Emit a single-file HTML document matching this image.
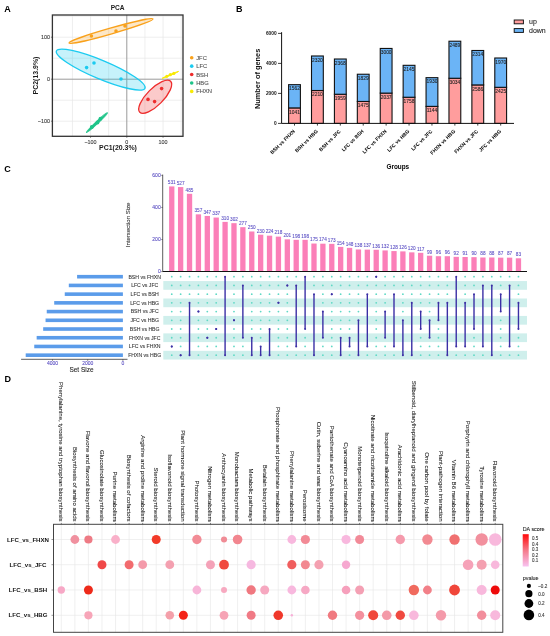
<!DOCTYPE html>
<html><head><meta charset="utf-8"><style>
html,body{margin:0;padding:0;background:#fff;width:550px;height:636px;overflow:hidden}
svg{display:block;font-family:"Liberation Sans", sans-serif;filter:blur(0.25px)}
</style></head><body>
<svg width="550" height="636" viewBox="0 0 550 636">
<rect width="550" height="636" fill="#fff"/>
<text x="4.20" y="11.50" font-size="9.0" fill="#000" font-weight="bold" text-anchor="start" >A</text>
<text x="235.90" y="11.80" font-size="9.0" fill="#000" font-weight="bold" text-anchor="start" >B</text>
<text x="4.20" y="171.80" font-size="9.0" fill="#000" font-weight="bold" text-anchor="start" >C</text>
<text x="4.40" y="381.50" font-size="9.0" fill="#000" font-weight="bold" text-anchor="start" >D</text>
<rect x="52.4" y="15.0" width="130.6" height="121.30000000000001" fill="#fff"/>
<line x1="72.42" y1="15.0" x2="72.42" y2="136.3" stroke="#e6e6e6" stroke-width="0.7"/>
<line x1="90.55" y1="15.0" x2="90.55" y2="136.3" stroke="#e6e6e6" stroke-width="0.7"/>
<line x1="108.67" y1="15.0" x2="108.67" y2="136.3" stroke="#e6e6e6" stroke-width="0.7"/>
<line x1="144.93" y1="15.0" x2="144.93" y2="136.3" stroke="#e6e6e6" stroke-width="0.7"/>
<line x1="163.05" y1="15.0" x2="163.05" y2="136.3" stroke="#e6e6e6" stroke-width="0.7"/>
<line x1="181.18" y1="15.0" x2="181.18" y2="136.3" stroke="#e6e6e6" stroke-width="0.7"/>
<line x1="52.4" y1="16.20" x2="183.0" y2="16.20" stroke="#e6e6e6" stroke-width="0.7"/>
<line x1="52.4" y1="37.20" x2="183.0" y2="37.20" stroke="#e6e6e6" stroke-width="0.7"/>
<line x1="52.4" y1="58.20" x2="183.0" y2="58.20" stroke="#e6e6e6" stroke-width="0.7"/>
<line x1="52.4" y1="100.20" x2="183.0" y2="100.20" stroke="#e6e6e6" stroke-width="0.7"/>
<line x1="52.4" y1="121.20" x2="183.0" y2="121.20" stroke="#e6e6e6" stroke-width="0.7"/>
<line x1="126.80" y1="15.0" x2="126.80" y2="136.3" stroke="#9a9a9a" stroke-width="1"/>
<line x1="52.4" y1="79.20" x2="183.0" y2="79.20" stroke="#9a9a9a" stroke-width="1"/>
<ellipse cx="111.00" cy="31.00" rx="43.68" ry="2.9" transform="rotate(-15.95 111.00 31.00)" fill="#F9A11B" fill-opacity="0.25" stroke="#F9A11B" stroke-width="1.3"/>
<ellipse cx="100.70" cy="69.60" rx="48.05" ry="9.2" transform="rotate(22.78 100.70 69.60)" fill="#1BCBF0" fill-opacity="0.25" stroke="#1BCBF0" stroke-width="1.3"/>
<ellipse cx="155.20" cy="96.75" rx="21.89" ry="8.3" transform="rotate(-45.28 155.20 96.75)" fill="#EE2C2C" fill-opacity="0.25" stroke="#EE2C2C" stroke-width="1.3"/>
<ellipse cx="96.90" cy="122.70" rx="14.43" ry="1.1" transform="rotate(-43.32 96.90 122.70)" fill="#1EC489" fill-opacity="1" stroke="#1EC489" stroke-width="1.0"/>
<ellipse cx="170.30" cy="74.90" rx="9.01" ry="0.45" transform="rotate(-22.86 170.30 74.90)" fill="#F8EA06" fill-opacity="1" stroke="#F8EA06" stroke-width="0.8"/>
<circle cx="91.4" cy="36" r="1.8" fill="#F9A11B"/>
<circle cx="116" cy="31" r="1.8" fill="#F9A11B"/>
<circle cx="125" cy="26" r="1.8" fill="#F9A11B"/>
<circle cx="86.6" cy="67.6" r="1.8" fill="#1BCBF0"/>
<circle cx="94" cy="63" r="1.8" fill="#1BCBF0"/>
<circle cx="121" cy="79" r="1.8" fill="#1BCBF0"/>
<circle cx="148" cy="99.4" r="1.8" fill="#EE2C2C"/>
<circle cx="154.6" cy="101.6" r="1.8" fill="#EE2C2C"/>
<circle cx="161.6" cy="88.6" r="1.8" fill="#EE2C2C"/>
<circle cx="91.8" cy="127" r="1.9" fill="#1EC489"/>
<circle cx="97.5" cy="122.5" r="1.9" fill="#1EC489"/>
<circle cx="100.4" cy="118.7" r="1.9" fill="#1EC489"/>
<circle cx="166.8" cy="76.3" r="1.6" fill="#F8EA06"/>
<circle cx="170.3" cy="74.7" r="1.6" fill="#F8EA06"/>
<circle cx="173.8" cy="73.4" r="1.6" fill="#F8EA06"/>
<rect x="52.4" y="15.0" width="130.6" height="121.30000000000001" fill="none" stroke="#333" stroke-width="1.3"/>
<line x1="50.9" y1="37.20" x2="52.4" y2="37.20" stroke="#333" stroke-width="0.6"/>
<text x="50.00" y="39.10" font-size="5.4" fill="#333" font-weight="normal" text-anchor="end"  stroke="#333" stroke-width="0.08">100</text>
<line x1="50.9" y1="79.20" x2="52.4" y2="79.20" stroke="#333" stroke-width="0.6"/>
<text x="50.00" y="81.10" font-size="5.4" fill="#333" font-weight="normal" text-anchor="end"  stroke="#333" stroke-width="0.08">0</text>
<line x1="50.9" y1="121.20" x2="52.4" y2="121.20" stroke="#333" stroke-width="0.6"/>
<text x="50.00" y="123.10" font-size="5.4" fill="#333" font-weight="normal" text-anchor="end"  stroke="#333" stroke-width="0.08">−100</text>
<line x1="90.55" y1="136.3" x2="90.55" y2="137.8" stroke="#333" stroke-width="0.6"/>
<text x="90.55" y="143.50" font-size="5.4" fill="#333" font-weight="normal" text-anchor="middle"  stroke="#333" stroke-width="0.08">−100</text>
<line x1="126.80" y1="136.3" x2="126.80" y2="137.8" stroke="#333" stroke-width="0.6"/>
<text x="126.80" y="143.50" font-size="5.4" fill="#333" font-weight="normal" text-anchor="middle"  stroke="#333" stroke-width="0.08">0</text>
<line x1="163.05" y1="136.3" x2="163.05" y2="137.8" stroke="#333" stroke-width="0.6"/>
<text x="163.05" y="143.50" font-size="5.4" fill="#333" font-weight="normal" text-anchor="middle"  stroke="#333" stroke-width="0.08">100</text>
<text x="117.60" y="10.30" font-size="6.6" fill="#222" font-weight="bold" text-anchor="middle" >PCA</text>
<text x="118.00" y="150.40" font-size="6.95" fill="#1a1a1a" font-weight="bold" text-anchor="middle" >PC1(20.3%)</text>
<text x="0" y="0" font-size="6.95" font-weight="bold" fill="#1a1a1a" text-anchor="middle" transform="translate(38.4 75.5) rotate(-90)">PC2(13.9%)</text>
<circle cx="191.7" cy="57.70" r="1.8" fill="#F9A11B"/>
<text x="196.20" y="59.70" font-size="5.8" fill="#4d4d4d" font-weight="normal" text-anchor="start"  stroke="#4d4d4d" stroke-width="0.08">JFC</text>
<circle cx="191.7" cy="66.13" r="1.8" fill="#1BCBF0"/>
<text x="196.20" y="68.13" font-size="5.8" fill="#4d4d4d" font-weight="normal" text-anchor="start"  stroke="#4d4d4d" stroke-width="0.08">LFC</text>
<circle cx="191.7" cy="74.56" r="1.8" fill="#EE2C2C"/>
<text x="196.20" y="76.56" font-size="5.8" fill="#4d4d4d" font-weight="normal" text-anchor="start"  stroke="#4d4d4d" stroke-width="0.08">BSH</text>
<circle cx="191.7" cy="82.99" r="1.8" fill="#1EC489"/>
<text x="196.20" y="84.99" font-size="5.8" fill="#4d4d4d" font-weight="normal" text-anchor="start"  stroke="#4d4d4d" stroke-width="0.08">HBG</text>
<circle cx="191.7" cy="91.42" r="1.8" fill="#F8EA06"/>
<text x="196.20" y="93.42" font-size="5.8" fill="#4d4d4d" font-weight="normal" text-anchor="start"  stroke="#4d4d4d" stroke-width="0.08">FHXN</text>
<rect x="288.60" y="107.91" width="11.8" height="15.49" fill="#FF9D9D" stroke="#111" stroke-width="1.1"/>
<rect x="288.60" y="84.67" width="11.8" height="23.24" fill="#6BB4F6" stroke="#111" stroke-width="1.1"/>
<text x="294.50" y="113.71" font-size="4.9" fill="#222" font-weight="normal" text-anchor="middle"  stroke="#222" stroke-width="0.08">1041</text>
<text x="294.50" y="90.47" font-size="4.9" fill="#222" font-weight="normal" text-anchor="middle"  stroke="#222" stroke-width="0.08">1562</text>
<line x1="294.50" y1="123.4" x2="294.50" y2="125.60000000000001" stroke="#111" stroke-width="0.8"/>
<text x="0" y="0" font-size="5.0" font-weight="bold" fill="#000" text-anchor="end" transform="translate(295.30 131.60) rotate(-45)">BSH vs FHXN</text>
<rect x="311.51" y="90.52" width="11.8" height="32.88" fill="#FF9D9D" stroke="#111" stroke-width="1.1"/>
<rect x="311.51" y="55.99" width="11.8" height="34.52" fill="#6BB4F6" stroke="#111" stroke-width="1.1"/>
<text x="317.41" y="96.32" font-size="4.9" fill="#222" font-weight="normal" text-anchor="middle"  stroke="#222" stroke-width="0.08">2210</text>
<text x="317.41" y="61.79" font-size="4.9" fill="#222" font-weight="normal" text-anchor="middle"  stroke="#222" stroke-width="0.08">2320</text>
<line x1="317.41" y1="123.4" x2="317.41" y2="125.60000000000001" stroke="#111" stroke-width="0.8"/>
<text x="0" y="0" font-size="5.0" font-weight="bold" fill="#000" text-anchor="end" transform="translate(318.21 131.60) rotate(-45)">BSH vs HBG</text>
<rect x="334.42" y="94.25" width="11.8" height="29.15" fill="#FF9D9D" stroke="#111" stroke-width="1.1"/>
<rect x="334.42" y="59.01" width="11.8" height="35.24" fill="#6BB4F6" stroke="#111" stroke-width="1.1"/>
<text x="340.32" y="100.05" font-size="4.9" fill="#222" font-weight="normal" text-anchor="middle"  stroke="#222" stroke-width="0.08">1959</text>
<text x="340.32" y="64.81" font-size="4.9" fill="#222" font-weight="normal" text-anchor="middle"  stroke="#222" stroke-width="0.08">2368</text>
<line x1="340.32" y1="123.4" x2="340.32" y2="125.60000000000001" stroke="#111" stroke-width="0.8"/>
<text x="0" y="0" font-size="5.0" font-weight="bold" fill="#000" text-anchor="end" transform="translate(341.12 131.60) rotate(-45)">BSH vs JFC</text>
<rect x="357.33" y="101.45" width="11.8" height="21.95" fill="#FF9D9D" stroke="#111" stroke-width="1.1"/>
<rect x="357.33" y="74.24" width="11.8" height="27.22" fill="#6BB4F6" stroke="#111" stroke-width="1.1"/>
<text x="363.23" y="107.25" font-size="4.9" fill="#222" font-weight="normal" text-anchor="middle"  stroke="#222" stroke-width="0.08">1475</text>
<text x="363.23" y="80.04" font-size="4.9" fill="#222" font-weight="normal" text-anchor="middle"  stroke="#222" stroke-width="0.08">1829</text>
<line x1="363.23" y1="123.4" x2="363.23" y2="125.60000000000001" stroke="#111" stroke-width="0.8"/>
<text x="0" y="0" font-size="5.0" font-weight="bold" fill="#000" text-anchor="end" transform="translate(364.03 131.60) rotate(-45)">LFC vs BSH</text>
<rect x="380.24" y="93.09" width="11.8" height="30.31" fill="#FF9D9D" stroke="#111" stroke-width="1.1"/>
<rect x="380.24" y="48.45" width="11.8" height="44.64" fill="#6BB4F6" stroke="#111" stroke-width="1.1"/>
<text x="386.14" y="98.89" font-size="4.9" fill="#222" font-weight="normal" text-anchor="middle"  stroke="#222" stroke-width="0.08">2037</text>
<text x="386.14" y="54.25" font-size="4.9" fill="#222" font-weight="normal" text-anchor="middle"  stroke="#222" stroke-width="0.08">3000</text>
<line x1="386.14" y1="123.4" x2="386.14" y2="125.60000000000001" stroke="#111" stroke-width="0.8"/>
<text x="0" y="0" font-size="5.0" font-weight="bold" fill="#000" text-anchor="end" transform="translate(386.94 131.60) rotate(-45)">LFC vs FHXN</text>
<rect x="403.15" y="97.24" width="11.8" height="26.16" fill="#FF9D9D" stroke="#111" stroke-width="1.1"/>
<rect x="403.15" y="65.32" width="11.8" height="31.92" fill="#6BB4F6" stroke="#111" stroke-width="1.1"/>
<text x="409.05" y="103.04" font-size="4.9" fill="#222" font-weight="normal" text-anchor="middle"  stroke="#222" stroke-width="0.08">1758</text>
<text x="409.05" y="71.12" font-size="4.9" fill="#222" font-weight="normal" text-anchor="middle"  stroke="#222" stroke-width="0.08">2145</text>
<line x1="409.05" y1="123.4" x2="409.05" y2="125.60000000000001" stroke="#111" stroke-width="0.8"/>
<text x="0" y="0" font-size="5.0" font-weight="bold" fill="#000" text-anchor="end" transform="translate(409.85 131.60) rotate(-45)">LFC vs HBG</text>
<rect x="426.06" y="106.38" width="11.8" height="17.02" fill="#FF9D9D" stroke="#111" stroke-width="1.1"/>
<rect x="426.06" y="77.66" width="11.8" height="28.72" fill="#6BB4F6" stroke="#111" stroke-width="1.1"/>
<text x="431.96" y="112.18" font-size="4.9" fill="#222" font-weight="normal" text-anchor="middle"  stroke="#222" stroke-width="0.08">1144</text>
<text x="431.96" y="83.46" font-size="4.9" fill="#222" font-weight="normal" text-anchor="middle"  stroke="#222" stroke-width="0.08">1930</text>
<line x1="431.96" y1="123.4" x2="431.96" y2="125.60000000000001" stroke="#111" stroke-width="0.8"/>
<text x="0" y="0" font-size="5.0" font-weight="bold" fill="#000" text-anchor="end" transform="translate(432.76 131.60) rotate(-45)">LFC vs JFC</text>
<rect x="448.97" y="78.25" width="11.8" height="45.15" fill="#FF9D9D" stroke="#111" stroke-width="1.1"/>
<rect x="448.97" y="41.22" width="11.8" height="37.04" fill="#6BB4F6" stroke="#111" stroke-width="1.1"/>
<text x="454.87" y="84.05" font-size="4.9" fill="#222" font-weight="normal" text-anchor="middle"  stroke="#222" stroke-width="0.08">3034</text>
<text x="454.87" y="47.02" font-size="4.9" fill="#222" font-weight="normal" text-anchor="middle"  stroke="#222" stroke-width="0.08">2489</text>
<line x1="454.87" y1="123.4" x2="454.87" y2="125.60000000000001" stroke="#111" stroke-width="0.8"/>
<text x="0" y="0" font-size="5.0" font-weight="bold" fill="#000" text-anchor="end" transform="translate(455.67 131.60) rotate(-45)">FHXN vs HBG</text>
<rect x="471.88" y="84.92" width="11.8" height="38.48" fill="#FF9D9D" stroke="#111" stroke-width="1.1"/>
<rect x="471.88" y="50.49" width="11.8" height="34.43" fill="#6BB4F6" stroke="#111" stroke-width="1.1"/>
<text x="477.78" y="90.72" font-size="4.9" fill="#222" font-weight="normal" text-anchor="middle"  stroke="#222" stroke-width="0.08">2586</text>
<text x="477.78" y="56.29" font-size="4.9" fill="#222" font-weight="normal" text-anchor="middle"  stroke="#222" stroke-width="0.08">2314</text>
<line x1="477.78" y1="123.4" x2="477.78" y2="125.60000000000001" stroke="#111" stroke-width="0.8"/>
<text x="0" y="0" font-size="5.0" font-weight="bold" fill="#000" text-anchor="end" transform="translate(478.58 131.60) rotate(-45)">FHXN vs JFC</text>
<rect x="494.79" y="87.32" width="11.8" height="36.08" fill="#FF9D9D" stroke="#111" stroke-width="1.1"/>
<rect x="494.79" y="58.00" width="11.8" height="29.31" fill="#6BB4F6" stroke="#111" stroke-width="1.1"/>
<text x="500.69" y="93.12" font-size="4.9" fill="#222" font-weight="normal" text-anchor="middle"  stroke="#222" stroke-width="0.08">2425</text>
<text x="500.69" y="63.80" font-size="4.9" fill="#222" font-weight="normal" text-anchor="middle"  stroke="#222" stroke-width="0.08">1970</text>
<line x1="500.69" y1="123.4" x2="500.69" y2="125.60000000000001" stroke="#111" stroke-width="0.8"/>
<text x="0" y="0" font-size="5.0" font-weight="bold" fill="#000" text-anchor="end" transform="translate(501.49 131.60) rotate(-45)">JFC vs HBG</text>
<line x1="281.6" y1="123.4" x2="514" y2="123.4" stroke="#111" stroke-width="1"/>
<line x1="281.6" y1="32.2" x2="281.6" y2="123.4" stroke="#111" stroke-width="1"/>
<line x1="278.0" y1="123.40" x2="281.6" y2="123.40" stroke="#111" stroke-width="0.8"/>
<text x="276.60" y="125.20" font-size="4.8" fill="#111" font-weight="bold" text-anchor="end" >0</text>
<line x1="278.0" y1="93.40" x2="281.6" y2="93.40" stroke="#111" stroke-width="0.8"/>
<text x="276.60" y="95.20" font-size="4.8" fill="#111" font-weight="bold" text-anchor="end" >2000</text>
<line x1="278.0" y1="63.40" x2="281.6" y2="63.40" stroke="#111" stroke-width="0.8"/>
<text x="276.60" y="65.20" font-size="4.8" fill="#111" font-weight="bold" text-anchor="end" >4000</text>
<line x1="278.0" y1="33.40" x2="281.6" y2="33.40" stroke="#111" stroke-width="0.8"/>
<text x="276.60" y="35.20" font-size="4.8" fill="#111" font-weight="bold" text-anchor="end" >6000</text>
<text x="0" y="0" font-size="7.4" font-weight="bold" fill="#111" text-anchor="middle" transform="translate(259.9 78.9) rotate(-90)">Number of genes</text>
<text x="397.80" y="168.90" font-size="6.4" fill="#000" font-weight="bold" text-anchor="middle" >Groups</text>
<rect x="514.2" y="20.0" width="9.2" height="3.8" fill="#FF9D9D" stroke="#111" stroke-width="0.95"/>
<rect x="514.2" y="28.6" width="9.2" height="3.8" fill="#6BB4F6" stroke="#111" stroke-width="0.95"/>
<text x="529.00" y="24.40" font-size="7.0" fill="#222" font-weight="normal" text-anchor="start"  stroke="#222" stroke-width="0.08">up</text>
<text x="529.00" y="32.90" font-size="7.0" fill="#222" font-weight="normal" text-anchor="start"  stroke="#222" stroke-width="0.08">down</text>
<rect x="163.3" y="281.06" width="363.70" height="8.72" fill="#CFEFEC"/>
<rect x="163.3" y="298.50" width="363.70" height="8.72" fill="#CFEFEC"/>
<rect x="163.3" y="315.94" width="363.70" height="8.72" fill="#CFEFEC"/>
<rect x="163.3" y="333.38" width="363.70" height="8.72" fill="#CFEFEC"/>
<rect x="163.3" y="350.82" width="363.70" height="8.72" fill="#CFEFEC"/>
<rect x="169.10" y="186.43" width="5.3" height="85.17" fill="#FB7FB8"/>
<text x="171.75" y="184.23" font-size="4.7" fill="#5a4ec4" font-weight="normal" text-anchor="middle"  stroke="#5a4ec4" stroke-width="0.08">531</text>
<rect x="177.99" y="187.07" width="5.3" height="84.53" fill="#FB7FB8"/>
<text x="180.64" y="184.87" font-size="4.7" fill="#5a4ec4" font-weight="normal" text-anchor="middle"  stroke="#5a4ec4" stroke-width="0.08">527</text>
<rect x="186.88" y="193.81" width="5.3" height="77.79" fill="#FB7FB8"/>
<text x="189.53" y="191.61" font-size="4.7" fill="#5a4ec4" font-weight="normal" text-anchor="middle"  stroke="#5a4ec4" stroke-width="0.08">485</text>
<rect x="195.77" y="214.34" width="5.3" height="57.26" fill="#FB7FB8"/>
<text x="198.42" y="212.14" font-size="4.7" fill="#5a4ec4" font-weight="normal" text-anchor="middle"  stroke="#5a4ec4" stroke-width="0.08">357</text>
<rect x="204.66" y="215.94" width="5.3" height="55.66" fill="#FB7FB8"/>
<text x="207.31" y="213.74" font-size="4.7" fill="#5a4ec4" font-weight="normal" text-anchor="middle"  stroke="#5a4ec4" stroke-width="0.08">347</text>
<rect x="213.55" y="217.55" width="5.3" height="54.05" fill="#FB7FB8"/>
<text x="216.20" y="215.35" font-size="4.7" fill="#5a4ec4" font-weight="normal" text-anchor="middle"  stroke="#5a4ec4" stroke-width="0.08">337</text>
<rect x="222.44" y="221.88" width="5.3" height="49.72" fill="#FB7FB8"/>
<text x="225.09" y="219.68" font-size="4.7" fill="#5a4ec4" font-weight="normal" text-anchor="middle"  stroke="#5a4ec4" stroke-width="0.08">310</text>
<rect x="231.33" y="223.16" width="5.3" height="48.44" fill="#FB7FB8"/>
<text x="233.98" y="220.96" font-size="4.7" fill="#5a4ec4" font-weight="normal" text-anchor="middle"  stroke="#5a4ec4" stroke-width="0.08">302</text>
<rect x="240.22" y="227.17" width="5.3" height="44.43" fill="#FB7FB8"/>
<text x="242.87" y="224.97" font-size="4.7" fill="#5a4ec4" font-weight="normal" text-anchor="middle"  stroke="#5a4ec4" stroke-width="0.08">277</text>
<rect x="249.11" y="231.50" width="5.3" height="40.10" fill="#FB7FB8"/>
<text x="251.76" y="229.30" font-size="4.7" fill="#5a4ec4" font-weight="normal" text-anchor="middle"  stroke="#5a4ec4" stroke-width="0.08">250</text>
<rect x="258.00" y="234.71" width="5.3" height="36.89" fill="#FB7FB8"/>
<text x="260.65" y="232.51" font-size="4.7" fill="#5a4ec4" font-weight="normal" text-anchor="middle"  stroke="#5a4ec4" stroke-width="0.08">230</text>
<rect x="266.89" y="235.67" width="5.3" height="35.93" fill="#FB7FB8"/>
<text x="269.54" y="233.47" font-size="4.7" fill="#5a4ec4" font-weight="normal" text-anchor="middle"  stroke="#5a4ec4" stroke-width="0.08">224</text>
<rect x="275.78" y="236.63" width="5.3" height="34.97" fill="#FB7FB8"/>
<text x="278.43" y="234.43" font-size="4.7" fill="#5a4ec4" font-weight="normal" text-anchor="middle"  stroke="#5a4ec4" stroke-width="0.08">218</text>
<rect x="284.67" y="239.36" width="5.3" height="32.24" fill="#FB7FB8"/>
<text x="287.32" y="237.16" font-size="4.7" fill="#5a4ec4" font-weight="normal" text-anchor="middle"  stroke="#5a4ec4" stroke-width="0.08">201</text>
<rect x="293.56" y="239.84" width="5.3" height="31.76" fill="#FB7FB8"/>
<text x="296.21" y="237.64" font-size="4.7" fill="#5a4ec4" font-weight="normal" text-anchor="middle"  stroke="#5a4ec4" stroke-width="0.08">198</text>
<rect x="302.45" y="239.84" width="5.3" height="31.76" fill="#FB7FB8"/>
<text x="305.10" y="237.64" font-size="4.7" fill="#5a4ec4" font-weight="normal" text-anchor="middle"  stroke="#5a4ec4" stroke-width="0.08">198</text>
<rect x="311.34" y="243.53" width="5.3" height="28.07" fill="#FB7FB8"/>
<text x="313.99" y="241.33" font-size="4.7" fill="#5a4ec4" font-weight="normal" text-anchor="middle"  stroke="#5a4ec4" stroke-width="0.08">175</text>
<rect x="320.23" y="243.69" width="5.3" height="27.91" fill="#FB7FB8"/>
<text x="322.88" y="241.49" font-size="4.7" fill="#5a4ec4" font-weight="normal" text-anchor="middle"  stroke="#5a4ec4" stroke-width="0.08">174</text>
<rect x="329.12" y="243.85" width="5.3" height="27.75" fill="#FB7FB8"/>
<text x="331.77" y="241.65" font-size="4.7" fill="#5a4ec4" font-weight="normal" text-anchor="middle"  stroke="#5a4ec4" stroke-width="0.08">173</text>
<rect x="338.01" y="246.90" width="5.3" height="24.70" fill="#FB7FB8"/>
<text x="340.66" y="244.70" font-size="4.7" fill="#5a4ec4" font-weight="normal" text-anchor="middle"  stroke="#5a4ec4" stroke-width="0.08">154</text>
<rect x="346.90" y="247.86" width="5.3" height="23.74" fill="#FB7FB8"/>
<text x="349.55" y="245.66" font-size="4.7" fill="#5a4ec4" font-weight="normal" text-anchor="middle"  stroke="#5a4ec4" stroke-width="0.08">148</text>
<rect x="355.79" y="249.46" width="5.3" height="22.14" fill="#FB7FB8"/>
<text x="358.44" y="247.26" font-size="4.7" fill="#5a4ec4" font-weight="normal" text-anchor="middle"  stroke="#5a4ec4" stroke-width="0.08">138</text>
<rect x="364.68" y="249.63" width="5.3" height="21.97" fill="#FB7FB8"/>
<text x="367.33" y="247.43" font-size="4.7" fill="#5a4ec4" font-weight="normal" text-anchor="middle"  stroke="#5a4ec4" stroke-width="0.08">137</text>
<rect x="373.57" y="249.79" width="5.3" height="21.81" fill="#FB7FB8"/>
<text x="376.22" y="247.59" font-size="4.7" fill="#5a4ec4" font-weight="normal" text-anchor="middle"  stroke="#5a4ec4" stroke-width="0.08">136</text>
<rect x="382.46" y="250.43" width="5.3" height="21.17" fill="#FB7FB8"/>
<text x="385.11" y="248.23" font-size="4.7" fill="#5a4ec4" font-weight="normal" text-anchor="middle"  stroke="#5a4ec4" stroke-width="0.08">132</text>
<rect x="391.35" y="251.07" width="5.3" height="20.53" fill="#FB7FB8"/>
<text x="394.00" y="248.87" font-size="4.7" fill="#5a4ec4" font-weight="normal" text-anchor="middle"  stroke="#5a4ec4" stroke-width="0.08">128</text>
<rect x="400.24" y="251.39" width="5.3" height="20.21" fill="#FB7FB8"/>
<text x="402.89" y="249.19" font-size="4.7" fill="#5a4ec4" font-weight="normal" text-anchor="middle"  stroke="#5a4ec4" stroke-width="0.08">126</text>
<rect x="409.13" y="252.35" width="5.3" height="19.25" fill="#FB7FB8"/>
<text x="411.78" y="250.15" font-size="4.7" fill="#5a4ec4" font-weight="normal" text-anchor="middle"  stroke="#5a4ec4" stroke-width="0.08">120</text>
<rect x="418.02" y="252.83" width="5.3" height="18.77" fill="#FB7FB8"/>
<text x="420.67" y="250.63" font-size="4.7" fill="#5a4ec4" font-weight="normal" text-anchor="middle"  stroke="#5a4ec4" stroke-width="0.08">117</text>
<rect x="426.91" y="255.72" width="5.3" height="15.88" fill="#FB7FB8"/>
<text x="429.56" y="253.52" font-size="4.7" fill="#5a4ec4" font-weight="normal" text-anchor="middle"  stroke="#5a4ec4" stroke-width="0.08">99</text>
<rect x="435.80" y="256.20" width="5.3" height="15.40" fill="#FB7FB8"/>
<text x="438.45" y="254.00" font-size="4.7" fill="#5a4ec4" font-weight="normal" text-anchor="middle"  stroke="#5a4ec4" stroke-width="0.08">96</text>
<rect x="444.69" y="256.20" width="5.3" height="15.40" fill="#FB7FB8"/>
<text x="447.34" y="254.00" font-size="4.7" fill="#5a4ec4" font-weight="normal" text-anchor="middle"  stroke="#5a4ec4" stroke-width="0.08">96</text>
<rect x="453.58" y="256.84" width="5.3" height="14.76" fill="#FB7FB8"/>
<text x="456.23" y="254.64" font-size="4.7" fill="#5a4ec4" font-weight="normal" text-anchor="middle"  stroke="#5a4ec4" stroke-width="0.08">92</text>
<rect x="462.47" y="257.00" width="5.3" height="14.60" fill="#FB7FB8"/>
<text x="465.12" y="254.80" font-size="4.7" fill="#5a4ec4" font-weight="normal" text-anchor="middle"  stroke="#5a4ec4" stroke-width="0.08">91</text>
<rect x="471.36" y="257.16" width="5.3" height="14.44" fill="#FB7FB8"/>
<text x="474.01" y="254.96" font-size="4.7" fill="#5a4ec4" font-weight="normal" text-anchor="middle"  stroke="#5a4ec4" stroke-width="0.08">90</text>
<rect x="480.25" y="257.48" width="5.3" height="14.12" fill="#FB7FB8"/>
<text x="482.90" y="255.28" font-size="4.7" fill="#5a4ec4" font-weight="normal" text-anchor="middle"  stroke="#5a4ec4" stroke-width="0.08">88</text>
<rect x="489.14" y="257.48" width="5.3" height="14.12" fill="#FB7FB8"/>
<text x="491.79" y="255.28" font-size="4.7" fill="#5a4ec4" font-weight="normal" text-anchor="middle"  stroke="#5a4ec4" stroke-width="0.08">88</text>
<rect x="498.03" y="257.65" width="5.3" height="13.95" fill="#FB7FB8"/>
<text x="500.68" y="255.45" font-size="4.7" fill="#5a4ec4" font-weight="normal" text-anchor="middle"  stroke="#5a4ec4" stroke-width="0.08">87</text>
<rect x="506.92" y="257.65" width="5.3" height="13.95" fill="#FB7FB8"/>
<text x="509.57" y="255.45" font-size="4.7" fill="#5a4ec4" font-weight="normal" text-anchor="middle"  stroke="#5a4ec4" stroke-width="0.08">87</text>
<rect x="515.81" y="258.29" width="5.3" height="13.31" fill="#FB7FB8"/>
<text x="518.46" y="256.09" font-size="4.7" fill="#5a4ec4" font-weight="normal" text-anchor="middle"  stroke="#5a4ec4" stroke-width="0.08">83</text>
<line x1="162.7" y1="271.5" x2="527" y2="271.5" stroke="#111" stroke-width="1.2"/>
<line x1="162.7" y1="174.6" x2="162.7" y2="271.6" stroke="#333" stroke-width="0.8"/>
<line x1="161.29999999999998" y1="271.60" x2="162.7" y2="271.60" stroke="#333" stroke-width="0.6"/>
<text x="160.70" y="273.40" font-size="5.0" fill="#5548C0" font-weight="normal" text-anchor="end"  stroke="#5548C0" stroke-width="0.08">0</text>
<line x1="161.29999999999998" y1="239.52" x2="162.7" y2="239.52" stroke="#333" stroke-width="0.6"/>
<text x="160.70" y="241.32" font-size="5.0" fill="#5548C0" font-weight="normal" text-anchor="end"  stroke="#5548C0" stroke-width="0.08">200</text>
<line x1="161.29999999999998" y1="207.44" x2="162.7" y2="207.44" stroke="#333" stroke-width="0.6"/>
<text x="160.70" y="209.24" font-size="5.0" fill="#5548C0" font-weight="normal" text-anchor="end"  stroke="#5548C0" stroke-width="0.08">400</text>
<line x1="161.29999999999998" y1="175.36" x2="162.7" y2="175.36" stroke="#333" stroke-width="0.6"/>
<text x="160.70" y="177.16" font-size="5.0" fill="#5548C0" font-weight="normal" text-anchor="end"  stroke="#5548C0" stroke-width="0.08">600</text>
<text x="0" y="0" font-size="6.05" fill="#333" text-anchor="middle" transform="translate(129.5 224.9) rotate(-90)" stroke="#333" stroke-width="0.08">Intersection Size</text>
<circle cx="171.75" cy="276.70" r="0.9" fill="#5FD9C5"/>
<circle cx="171.75" cy="285.42" r="0.9" fill="#5FD9C5"/>
<circle cx="171.75" cy="294.14" r="0.9" fill="#5FD9C5"/>
<circle cx="171.75" cy="302.86" r="0.9" fill="#5FD9C5"/>
<circle cx="171.75" cy="311.58" r="0.9" fill="#5FD9C5"/>
<circle cx="171.75" cy="320.30" r="0.9" fill="#5FD9C5"/>
<circle cx="171.75" cy="329.02" r="0.9" fill="#5FD9C5"/>
<circle cx="171.75" cy="337.74" r="0.9" fill="#5FD9C5"/>
<circle cx="171.75" cy="355.18" r="0.9" fill="#5FD9C5"/>
<circle cx="171.75" cy="346.46" r="1.0" fill="#3B2FA5"/>
<circle cx="171.75" cy="346.46" r="1.0" fill="#3B2FA5"/>
<circle cx="180.64" cy="276.70" r="0.9" fill="#5FD9C5"/>
<circle cx="180.64" cy="285.42" r="0.9" fill="#5FD9C5"/>
<circle cx="180.64" cy="294.14" r="0.9" fill="#5FD9C5"/>
<circle cx="180.64" cy="302.86" r="0.9" fill="#5FD9C5"/>
<circle cx="180.64" cy="311.58" r="0.9" fill="#5FD9C5"/>
<circle cx="180.64" cy="320.30" r="0.9" fill="#5FD9C5"/>
<circle cx="180.64" cy="329.02" r="0.9" fill="#5FD9C5"/>
<circle cx="180.64" cy="337.74" r="0.9" fill="#5FD9C5"/>
<circle cx="180.64" cy="346.46" r="0.9" fill="#5FD9C5"/>
<circle cx="180.64" cy="355.18" r="1.0" fill="#3B2FA5"/>
<circle cx="180.64" cy="355.18" r="1.0" fill="#3B2FA5"/>
<circle cx="189.53" cy="276.70" r="0.9" fill="#5FD9C5"/>
<circle cx="189.53" cy="285.42" r="0.9" fill="#5FD9C5"/>
<circle cx="189.53" cy="294.14" r="0.9" fill="#5FD9C5"/>
<line x1="189.53" y1="302.86" x2="189.53" y2="355.18" stroke="#3B2FA5" stroke-width="1.4"/>
<circle cx="189.53" cy="302.86" r="1.0" fill="#3B2FA5"/>
<circle cx="189.53" cy="355.18" r="1.0" fill="#3B2FA5"/>
<circle cx="198.42" cy="276.70" r="0.9" fill="#5FD9C5"/>
<circle cx="198.42" cy="285.42" r="0.9" fill="#5FD9C5"/>
<circle cx="198.42" cy="294.14" r="0.9" fill="#5FD9C5"/>
<circle cx="198.42" cy="302.86" r="0.9" fill="#5FD9C5"/>
<circle cx="198.42" cy="320.30" r="0.9" fill="#5FD9C5"/>
<circle cx="198.42" cy="329.02" r="0.9" fill="#5FD9C5"/>
<circle cx="198.42" cy="337.74" r="0.9" fill="#5FD9C5"/>
<circle cx="198.42" cy="346.46" r="0.9" fill="#5FD9C5"/>
<circle cx="198.42" cy="355.18" r="0.9" fill="#5FD9C5"/>
<circle cx="198.42" cy="311.58" r="1.0" fill="#3B2FA5"/>
<circle cx="198.42" cy="311.58" r="1.0" fill="#3B2FA5"/>
<circle cx="207.31" cy="276.70" r="0.9" fill="#5FD9C5"/>
<circle cx="207.31" cy="285.42" r="0.9" fill="#5FD9C5"/>
<circle cx="207.31" cy="294.14" r="0.9" fill="#5FD9C5"/>
<circle cx="207.31" cy="302.86" r="0.9" fill="#5FD9C5"/>
<circle cx="207.31" cy="311.58" r="0.9" fill="#5FD9C5"/>
<circle cx="207.31" cy="320.30" r="0.9" fill="#5FD9C5"/>
<circle cx="207.31" cy="329.02" r="0.9" fill="#5FD9C5"/>
<circle cx="207.31" cy="346.46" r="0.9" fill="#5FD9C5"/>
<circle cx="207.31" cy="355.18" r="0.9" fill="#5FD9C5"/>
<circle cx="207.31" cy="337.74" r="1.0" fill="#3B2FA5"/>
<circle cx="207.31" cy="337.74" r="1.0" fill="#3B2FA5"/>
<circle cx="216.20" cy="276.70" r="0.9" fill="#5FD9C5"/>
<circle cx="216.20" cy="285.42" r="0.9" fill="#5FD9C5"/>
<circle cx="216.20" cy="294.14" r="0.9" fill="#5FD9C5"/>
<circle cx="216.20" cy="302.86" r="0.9" fill="#5FD9C5"/>
<circle cx="216.20" cy="311.58" r="0.9" fill="#5FD9C5"/>
<circle cx="216.20" cy="320.30" r="0.9" fill="#5FD9C5"/>
<circle cx="216.20" cy="337.74" r="0.9" fill="#5FD9C5"/>
<circle cx="216.20" cy="346.46" r="0.9" fill="#5FD9C5"/>
<circle cx="216.20" cy="355.18" r="0.9" fill="#5FD9C5"/>
<circle cx="216.20" cy="329.02" r="1.0" fill="#3B2FA5"/>
<circle cx="216.20" cy="329.02" r="1.0" fill="#3B2FA5"/>
<line x1="225.09" y1="276.70" x2="225.09" y2="355.18" stroke="#3B2FA5" stroke-width="1.4"/>
<circle cx="225.09" cy="276.70" r="1.0" fill="#3B2FA5"/>
<circle cx="225.09" cy="355.18" r="1.0" fill="#3B2FA5"/>
<circle cx="233.98" cy="276.70" r="0.9" fill="#5FD9C5"/>
<circle cx="233.98" cy="285.42" r="0.9" fill="#5FD9C5"/>
<circle cx="233.98" cy="294.14" r="0.9" fill="#5FD9C5"/>
<circle cx="233.98" cy="302.86" r="0.9" fill="#5FD9C5"/>
<circle cx="233.98" cy="311.58" r="0.9" fill="#5FD9C5"/>
<circle cx="233.98" cy="329.02" r="0.9" fill="#5FD9C5"/>
<circle cx="233.98" cy="337.74" r="0.9" fill="#5FD9C5"/>
<circle cx="233.98" cy="346.46" r="0.9" fill="#5FD9C5"/>
<circle cx="233.98" cy="355.18" r="0.9" fill="#5FD9C5"/>
<circle cx="233.98" cy="320.30" r="1.0" fill="#3B2FA5"/>
<circle cx="233.98" cy="320.30" r="1.0" fill="#3B2FA5"/>
<circle cx="242.87" cy="276.70" r="0.9" fill="#5FD9C5"/>
<circle cx="242.87" cy="346.46" r="0.9" fill="#5FD9C5"/>
<circle cx="242.87" cy="355.18" r="0.9" fill="#5FD9C5"/>
<line x1="242.87" y1="285.42" x2="242.87" y2="337.74" stroke="#3B2FA5" stroke-width="1.4"/>
<circle cx="242.87" cy="285.42" r="1.0" fill="#3B2FA5"/>
<circle cx="242.87" cy="337.74" r="1.0" fill="#3B2FA5"/>
<circle cx="251.76" cy="276.70" r="0.9" fill="#5FD9C5"/>
<circle cx="251.76" cy="285.42" r="0.9" fill="#5FD9C5"/>
<circle cx="251.76" cy="294.14" r="0.9" fill="#5FD9C5"/>
<circle cx="251.76" cy="302.86" r="0.9" fill="#5FD9C5"/>
<circle cx="251.76" cy="311.58" r="0.9" fill="#5FD9C5"/>
<circle cx="251.76" cy="320.30" r="0.9" fill="#5FD9C5"/>
<circle cx="251.76" cy="329.02" r="0.9" fill="#5FD9C5"/>
<line x1="251.76" y1="337.74" x2="251.76" y2="355.18" stroke="#3B2FA5" stroke-width="1.4"/>
<circle cx="251.76" cy="337.74" r="1.0" fill="#3B2FA5"/>
<circle cx="251.76" cy="355.18" r="1.0" fill="#3B2FA5"/>
<circle cx="260.65" cy="276.70" r="0.9" fill="#5FD9C5"/>
<circle cx="260.65" cy="285.42" r="0.9" fill="#5FD9C5"/>
<circle cx="260.65" cy="294.14" r="0.9" fill="#5FD9C5"/>
<circle cx="260.65" cy="302.86" r="0.9" fill="#5FD9C5"/>
<circle cx="260.65" cy="311.58" r="0.9" fill="#5FD9C5"/>
<circle cx="260.65" cy="320.30" r="0.9" fill="#5FD9C5"/>
<circle cx="260.65" cy="329.02" r="0.9" fill="#5FD9C5"/>
<circle cx="260.65" cy="337.74" r="0.9" fill="#5FD9C5"/>
<line x1="260.65" y1="346.46" x2="260.65" y2="355.18" stroke="#3B2FA5" stroke-width="1.4"/>
<circle cx="260.65" cy="346.46" r="1.0" fill="#3B2FA5"/>
<circle cx="260.65" cy="355.18" r="1.0" fill="#3B2FA5"/>
<circle cx="269.54" cy="276.70" r="0.9" fill="#5FD9C5"/>
<circle cx="269.54" cy="285.42" r="0.9" fill="#5FD9C5"/>
<circle cx="269.54" cy="294.14" r="0.9" fill="#5FD9C5"/>
<circle cx="269.54" cy="302.86" r="0.9" fill="#5FD9C5"/>
<circle cx="269.54" cy="311.58" r="0.9" fill="#5FD9C5"/>
<circle cx="269.54" cy="320.30" r="0.9" fill="#5FD9C5"/>
<line x1="269.54" y1="329.02" x2="269.54" y2="355.18" stroke="#3B2FA5" stroke-width="1.4"/>
<circle cx="269.54" cy="329.02" r="1.0" fill="#3B2FA5"/>
<circle cx="269.54" cy="355.18" r="1.0" fill="#3B2FA5"/>
<circle cx="278.43" cy="276.70" r="0.9" fill="#5FD9C5"/>
<circle cx="278.43" cy="285.42" r="0.9" fill="#5FD9C5"/>
<circle cx="278.43" cy="294.14" r="0.9" fill="#5FD9C5"/>
<circle cx="278.43" cy="311.58" r="0.9" fill="#5FD9C5"/>
<circle cx="278.43" cy="320.30" r="0.9" fill="#5FD9C5"/>
<circle cx="278.43" cy="329.02" r="0.9" fill="#5FD9C5"/>
<circle cx="278.43" cy="337.74" r="0.9" fill="#5FD9C5"/>
<circle cx="278.43" cy="346.46" r="0.9" fill="#5FD9C5"/>
<circle cx="278.43" cy="355.18" r="0.9" fill="#5FD9C5"/>
<circle cx="278.43" cy="302.86" r="1.0" fill="#3B2FA5"/>
<circle cx="278.43" cy="302.86" r="1.0" fill="#3B2FA5"/>
<circle cx="287.32" cy="276.70" r="0.9" fill="#5FD9C5"/>
<circle cx="287.32" cy="294.14" r="0.9" fill="#5FD9C5"/>
<circle cx="287.32" cy="302.86" r="0.9" fill="#5FD9C5"/>
<circle cx="287.32" cy="311.58" r="0.9" fill="#5FD9C5"/>
<circle cx="287.32" cy="320.30" r="0.9" fill="#5FD9C5"/>
<circle cx="287.32" cy="329.02" r="0.9" fill="#5FD9C5"/>
<circle cx="287.32" cy="337.74" r="0.9" fill="#5FD9C5"/>
<circle cx="287.32" cy="346.46" r="0.9" fill="#5FD9C5"/>
<circle cx="287.32" cy="355.18" r="0.9" fill="#5FD9C5"/>
<circle cx="287.32" cy="285.42" r="1.0" fill="#3B2FA5"/>
<circle cx="287.32" cy="285.42" r="1.0" fill="#3B2FA5"/>
<circle cx="296.21" cy="276.70" r="0.9" fill="#5FD9C5"/>
<circle cx="296.21" cy="355.18" r="0.9" fill="#5FD9C5"/>
<line x1="296.21" y1="285.42" x2="296.21" y2="346.46" stroke="#3B2FA5" stroke-width="1.4"/>
<circle cx="296.21" cy="285.42" r="1.0" fill="#3B2FA5"/>
<circle cx="296.21" cy="346.46" r="1.0" fill="#3B2FA5"/>
<circle cx="305.10" cy="337.74" r="0.9" fill="#5FD9C5"/>
<circle cx="305.10" cy="346.46" r="0.9" fill="#5FD9C5"/>
<circle cx="305.10" cy="355.18" r="0.9" fill="#5FD9C5"/>
<line x1="305.10" y1="276.70" x2="305.10" y2="329.02" stroke="#3B2FA5" stroke-width="1.4"/>
<circle cx="305.10" cy="276.70" r="1.0" fill="#3B2FA5"/>
<circle cx="305.10" cy="329.02" r="1.0" fill="#3B2FA5"/>
<circle cx="313.99" cy="276.70" r="0.9" fill="#5FD9C5"/>
<circle cx="313.99" cy="285.42" r="0.9" fill="#5FD9C5"/>
<line x1="313.99" y1="294.14" x2="313.99" y2="355.18" stroke="#3B2FA5" stroke-width="1.4"/>
<circle cx="313.99" cy="294.14" r="1.0" fill="#3B2FA5"/>
<circle cx="313.99" cy="355.18" r="1.0" fill="#3B2FA5"/>
<circle cx="322.88" cy="276.70" r="0.9" fill="#5FD9C5"/>
<circle cx="322.88" cy="285.42" r="0.9" fill="#5FD9C5"/>
<circle cx="322.88" cy="294.14" r="0.9" fill="#5FD9C5"/>
<circle cx="322.88" cy="302.86" r="0.9" fill="#5FD9C5"/>
<circle cx="322.88" cy="346.46" r="0.9" fill="#5FD9C5"/>
<circle cx="322.88" cy="355.18" r="0.9" fill="#5FD9C5"/>
<line x1="322.88" y1="311.58" x2="322.88" y2="337.74" stroke="#3B2FA5" stroke-width="1.4"/>
<circle cx="322.88" cy="311.58" r="1.0" fill="#3B2FA5"/>
<circle cx="322.88" cy="337.74" r="1.0" fill="#3B2FA5"/>
<circle cx="331.77" cy="276.70" r="0.9" fill="#5FD9C5"/>
<circle cx="331.77" cy="285.42" r="0.9" fill="#5FD9C5"/>
<circle cx="331.77" cy="302.86" r="0.9" fill="#5FD9C5"/>
<circle cx="331.77" cy="311.58" r="0.9" fill="#5FD9C5"/>
<circle cx="331.77" cy="320.30" r="0.9" fill="#5FD9C5"/>
<circle cx="331.77" cy="329.02" r="0.9" fill="#5FD9C5"/>
<circle cx="331.77" cy="337.74" r="0.9" fill="#5FD9C5"/>
<circle cx="331.77" cy="346.46" r="0.9" fill="#5FD9C5"/>
<circle cx="331.77" cy="355.18" r="0.9" fill="#5FD9C5"/>
<circle cx="331.77" cy="294.14" r="1.0" fill="#3B2FA5"/>
<circle cx="331.77" cy="294.14" r="1.0" fill="#3B2FA5"/>
<circle cx="340.66" cy="276.70" r="0.9" fill="#5FD9C5"/>
<circle cx="340.66" cy="285.42" r="0.9" fill="#5FD9C5"/>
<circle cx="340.66" cy="294.14" r="0.9" fill="#5FD9C5"/>
<circle cx="340.66" cy="302.86" r="0.9" fill="#5FD9C5"/>
<circle cx="340.66" cy="311.58" r="0.9" fill="#5FD9C5"/>
<circle cx="340.66" cy="320.30" r="0.9" fill="#5FD9C5"/>
<circle cx="340.66" cy="329.02" r="0.9" fill="#5FD9C5"/>
<line x1="340.66" y1="337.74" x2="340.66" y2="355.18" stroke="#3B2FA5" stroke-width="1.4"/>
<circle cx="340.66" cy="337.74" r="1.0" fill="#3B2FA5"/>
<circle cx="340.66" cy="355.18" r="1.0" fill="#3B2FA5"/>
<circle cx="349.55" cy="276.70" r="0.9" fill="#5FD9C5"/>
<circle cx="349.55" cy="285.42" r="0.9" fill="#5FD9C5"/>
<circle cx="349.55" cy="294.14" r="0.9" fill="#5FD9C5"/>
<circle cx="349.55" cy="302.86" r="0.9" fill="#5FD9C5"/>
<circle cx="349.55" cy="311.58" r="0.9" fill="#5FD9C5"/>
<circle cx="349.55" cy="320.30" r="0.9" fill="#5FD9C5"/>
<circle cx="349.55" cy="329.02" r="0.9" fill="#5FD9C5"/>
<circle cx="349.55" cy="355.18" r="0.9" fill="#5FD9C5"/>
<line x1="349.55" y1="337.74" x2="349.55" y2="346.46" stroke="#3B2FA5" stroke-width="1.4"/>
<circle cx="349.55" cy="337.74" r="1.0" fill="#3B2FA5"/>
<circle cx="349.55" cy="346.46" r="1.0" fill="#3B2FA5"/>
<circle cx="358.44" cy="276.70" r="0.9" fill="#5FD9C5"/>
<circle cx="358.44" cy="285.42" r="0.9" fill="#5FD9C5"/>
<circle cx="358.44" cy="294.14" r="0.9" fill="#5FD9C5"/>
<circle cx="358.44" cy="302.86" r="0.9" fill="#5FD9C5"/>
<circle cx="358.44" cy="311.58" r="0.9" fill="#5FD9C5"/>
<line x1="358.44" y1="320.30" x2="358.44" y2="355.18" stroke="#3B2FA5" stroke-width="1.4"/>
<circle cx="358.44" cy="320.30" r="1.0" fill="#3B2FA5"/>
<circle cx="358.44" cy="355.18" r="1.0" fill="#3B2FA5"/>
<circle cx="367.33" cy="276.70" r="0.9" fill="#5FD9C5"/>
<circle cx="367.33" cy="285.42" r="0.9" fill="#5FD9C5"/>
<circle cx="367.33" cy="355.18" r="0.9" fill="#5FD9C5"/>
<line x1="367.33" y1="294.14" x2="367.33" y2="346.46" stroke="#3B2FA5" stroke-width="1.4"/>
<circle cx="367.33" cy="294.14" r="1.0" fill="#3B2FA5"/>
<circle cx="367.33" cy="346.46" r="1.0" fill="#3B2FA5"/>
<circle cx="376.22" cy="285.42" r="0.9" fill="#5FD9C5"/>
<circle cx="376.22" cy="294.14" r="0.9" fill="#5FD9C5"/>
<circle cx="376.22" cy="302.86" r="0.9" fill="#5FD9C5"/>
<circle cx="376.22" cy="311.58" r="0.9" fill="#5FD9C5"/>
<circle cx="376.22" cy="320.30" r="0.9" fill="#5FD9C5"/>
<circle cx="376.22" cy="329.02" r="0.9" fill="#5FD9C5"/>
<circle cx="376.22" cy="337.74" r="0.9" fill="#5FD9C5"/>
<circle cx="376.22" cy="346.46" r="0.9" fill="#5FD9C5"/>
<circle cx="376.22" cy="355.18" r="0.9" fill="#5FD9C5"/>
<circle cx="376.22" cy="276.70" r="1.0" fill="#3B2FA5"/>
<circle cx="376.22" cy="276.70" r="1.0" fill="#3B2FA5"/>
<circle cx="385.11" cy="276.70" r="0.9" fill="#5FD9C5"/>
<circle cx="385.11" cy="285.42" r="0.9" fill="#5FD9C5"/>
<circle cx="385.11" cy="294.14" r="0.9" fill="#5FD9C5"/>
<circle cx="385.11" cy="302.86" r="0.9" fill="#5FD9C5"/>
<circle cx="385.11" cy="346.46" r="0.9" fill="#5FD9C5"/>
<circle cx="385.11" cy="355.18" r="0.9" fill="#5FD9C5"/>
<line x1="385.11" y1="311.58" x2="385.11" y2="337.74" stroke="#3B2FA5" stroke-width="1.4"/>
<circle cx="385.11" cy="311.58" r="1.0" fill="#3B2FA5"/>
<circle cx="385.11" cy="337.74" r="1.0" fill="#3B2FA5"/>
<circle cx="394.00" cy="276.70" r="0.9" fill="#5FD9C5"/>
<circle cx="394.00" cy="285.42" r="0.9" fill="#5FD9C5"/>
<circle cx="394.00" cy="355.18" r="0.9" fill="#5FD9C5"/>
<line x1="394.00" y1="294.14" x2="394.00" y2="346.46" stroke="#3B2FA5" stroke-width="1.4"/>
<circle cx="394.00" cy="294.14" r="1.0" fill="#3B2FA5"/>
<circle cx="394.00" cy="346.46" r="1.0" fill="#3B2FA5"/>
<circle cx="402.89" cy="276.70" r="0.9" fill="#5FD9C5"/>
<circle cx="402.89" cy="285.42" r="0.9" fill="#5FD9C5"/>
<circle cx="402.89" cy="294.14" r="0.9" fill="#5FD9C5"/>
<circle cx="402.89" cy="302.86" r="0.9" fill="#5FD9C5"/>
<circle cx="402.89" cy="311.58" r="0.9" fill="#5FD9C5"/>
<line x1="402.89" y1="320.30" x2="402.89" y2="355.18" stroke="#3B2FA5" stroke-width="1.4"/>
<circle cx="402.89" cy="320.30" r="1.0" fill="#3B2FA5"/>
<circle cx="402.89" cy="355.18" r="1.0" fill="#3B2FA5"/>
<circle cx="411.78" cy="276.70" r="0.9" fill="#5FD9C5"/>
<circle cx="411.78" cy="285.42" r="0.9" fill="#5FD9C5"/>
<circle cx="411.78" cy="294.14" r="0.9" fill="#5FD9C5"/>
<line x1="411.78" y1="302.86" x2="411.78" y2="355.18" stroke="#3B2FA5" stroke-width="1.4"/>
<circle cx="411.78" cy="302.86" r="1.0" fill="#3B2FA5"/>
<circle cx="411.78" cy="355.18" r="1.0" fill="#3B2FA5"/>
<circle cx="420.67" cy="276.70" r="0.9" fill="#5FD9C5"/>
<circle cx="420.67" cy="285.42" r="0.9" fill="#5FD9C5"/>
<circle cx="420.67" cy="294.14" r="0.9" fill="#5FD9C5"/>
<circle cx="420.67" cy="302.86" r="0.9" fill="#5FD9C5"/>
<circle cx="420.67" cy="337.74" r="0.9" fill="#5FD9C5"/>
<circle cx="420.67" cy="346.46" r="0.9" fill="#5FD9C5"/>
<circle cx="420.67" cy="355.18" r="0.9" fill="#5FD9C5"/>
<line x1="420.67" y1="311.58" x2="420.67" y2="329.02" stroke="#3B2FA5" stroke-width="1.4"/>
<circle cx="420.67" cy="311.58" r="1.0" fill="#3B2FA5"/>
<circle cx="420.67" cy="329.02" r="1.0" fill="#3B2FA5"/>
<circle cx="429.56" cy="276.70" r="0.9" fill="#5FD9C5"/>
<circle cx="429.56" cy="285.42" r="0.9" fill="#5FD9C5"/>
<circle cx="429.56" cy="294.14" r="0.9" fill="#5FD9C5"/>
<circle cx="429.56" cy="302.86" r="0.9" fill="#5FD9C5"/>
<circle cx="429.56" cy="311.58" r="0.9" fill="#5FD9C5"/>
<circle cx="429.56" cy="346.46" r="0.9" fill="#5FD9C5"/>
<circle cx="429.56" cy="355.18" r="0.9" fill="#5FD9C5"/>
<line x1="429.56" y1="320.30" x2="429.56" y2="337.74" stroke="#3B2FA5" stroke-width="1.4"/>
<circle cx="429.56" cy="320.30" r="1.0" fill="#3B2FA5"/>
<circle cx="429.56" cy="337.74" r="1.0" fill="#3B2FA5"/>
<circle cx="438.45" cy="276.70" r="0.9" fill="#5FD9C5"/>
<circle cx="438.45" cy="285.42" r="0.9" fill="#5FD9C5"/>
<circle cx="438.45" cy="294.14" r="0.9" fill="#5FD9C5"/>
<circle cx="438.45" cy="329.02" r="0.9" fill="#5FD9C5"/>
<circle cx="438.45" cy="337.74" r="0.9" fill="#5FD9C5"/>
<circle cx="438.45" cy="346.46" r="0.9" fill="#5FD9C5"/>
<circle cx="438.45" cy="355.18" r="0.9" fill="#5FD9C5"/>
<line x1="438.45" y1="302.86" x2="438.45" y2="320.30" stroke="#3B2FA5" stroke-width="1.4"/>
<circle cx="438.45" cy="302.86" r="1.0" fill="#3B2FA5"/>
<circle cx="438.45" cy="320.30" r="1.0" fill="#3B2FA5"/>
<circle cx="447.34" cy="276.70" r="0.9" fill="#5FD9C5"/>
<circle cx="447.34" cy="285.42" r="0.9" fill="#5FD9C5"/>
<circle cx="447.34" cy="294.14" r="0.9" fill="#5FD9C5"/>
<line x1="447.34" y1="302.86" x2="447.34" y2="355.18" stroke="#3B2FA5" stroke-width="1.4"/>
<circle cx="447.34" cy="302.86" r="1.0" fill="#3B2FA5"/>
<circle cx="447.34" cy="355.18" r="1.0" fill="#3B2FA5"/>
<circle cx="456.23" cy="355.18" r="0.9" fill="#5FD9C5"/>
<line x1="456.23" y1="276.70" x2="456.23" y2="346.46" stroke="#3B2FA5" stroke-width="1.4"/>
<circle cx="456.23" cy="276.70" r="1.0" fill="#3B2FA5"/>
<circle cx="456.23" cy="346.46" r="1.0" fill="#3B2FA5"/>
<circle cx="465.12" cy="276.70" r="0.9" fill="#5FD9C5"/>
<circle cx="465.12" cy="285.42" r="0.9" fill="#5FD9C5"/>
<circle cx="465.12" cy="294.14" r="0.9" fill="#5FD9C5"/>
<circle cx="465.12" cy="355.18" r="0.9" fill="#5FD9C5"/>
<line x1="465.12" y1="302.86" x2="465.12" y2="346.46" stroke="#3B2FA5" stroke-width="1.4"/>
<circle cx="465.12" cy="302.86" r="1.0" fill="#3B2FA5"/>
<circle cx="465.12" cy="346.46" r="1.0" fill="#3B2FA5"/>
<circle cx="474.01" cy="276.70" r="0.9" fill="#5FD9C5"/>
<circle cx="474.01" cy="285.42" r="0.9" fill="#5FD9C5"/>
<circle cx="474.01" cy="337.74" r="0.9" fill="#5FD9C5"/>
<circle cx="474.01" cy="346.46" r="0.9" fill="#5FD9C5"/>
<circle cx="474.01" cy="355.18" r="0.9" fill="#5FD9C5"/>
<line x1="474.01" y1="294.14" x2="474.01" y2="329.02" stroke="#3B2FA5" stroke-width="1.4"/>
<circle cx="474.01" cy="294.14" r="1.0" fill="#3B2FA5"/>
<circle cx="474.01" cy="329.02" r="1.0" fill="#3B2FA5"/>
<circle cx="482.90" cy="276.70" r="0.9" fill="#5FD9C5"/>
<circle cx="482.90" cy="355.18" r="0.9" fill="#5FD9C5"/>
<line x1="482.90" y1="285.42" x2="482.90" y2="346.46" stroke="#3B2FA5" stroke-width="1.4"/>
<circle cx="482.90" cy="285.42" r="1.0" fill="#3B2FA5"/>
<circle cx="482.90" cy="346.46" r="1.0" fill="#3B2FA5"/>
<circle cx="491.79" cy="276.70" r="0.9" fill="#5FD9C5"/>
<line x1="491.79" y1="285.42" x2="491.79" y2="355.18" stroke="#3B2FA5" stroke-width="1.4"/>
<circle cx="491.79" cy="285.42" r="1.0" fill="#3B2FA5"/>
<circle cx="491.79" cy="355.18" r="1.0" fill="#3B2FA5"/>
<circle cx="500.68" cy="276.70" r="0.9" fill="#5FD9C5"/>
<circle cx="500.68" cy="285.42" r="0.9" fill="#5FD9C5"/>
<circle cx="500.68" cy="320.30" r="0.9" fill="#5FD9C5"/>
<circle cx="500.68" cy="329.02" r="0.9" fill="#5FD9C5"/>
<circle cx="500.68" cy="337.74" r="0.9" fill="#5FD9C5"/>
<circle cx="500.68" cy="346.46" r="0.9" fill="#5FD9C5"/>
<circle cx="500.68" cy="355.18" r="0.9" fill="#5FD9C5"/>
<line x1="500.68" y1="294.14" x2="500.68" y2="311.58" stroke="#3B2FA5" stroke-width="1.4"/>
<circle cx="500.68" cy="294.14" r="1.0" fill="#3B2FA5"/>
<circle cx="500.68" cy="311.58" r="1.0" fill="#3B2FA5"/>
<circle cx="509.57" cy="276.70" r="0.9" fill="#5FD9C5"/>
<circle cx="509.57" cy="355.18" r="0.9" fill="#5FD9C5"/>
<line x1="509.57" y1="285.42" x2="509.57" y2="346.46" stroke="#3B2FA5" stroke-width="1.4"/>
<circle cx="509.57" cy="285.42" r="1.0" fill="#3B2FA5"/>
<circle cx="509.57" cy="346.46" r="1.0" fill="#3B2FA5"/>
<circle cx="518.46" cy="276.70" r="0.9" fill="#5FD9C5"/>
<circle cx="518.46" cy="285.42" r="0.9" fill="#5FD9C5"/>
<circle cx="518.46" cy="294.14" r="0.9" fill="#5FD9C5"/>
<circle cx="518.46" cy="337.74" r="0.9" fill="#5FD9C5"/>
<circle cx="518.46" cy="346.46" r="0.9" fill="#5FD9C5"/>
<circle cx="518.46" cy="355.18" r="0.9" fill="#5FD9C5"/>
<line x1="518.46" y1="302.86" x2="518.46" y2="329.02" stroke="#3B2FA5" stroke-width="1.4"/>
<circle cx="518.46" cy="302.86" r="1.0" fill="#3B2FA5"/>
<circle cx="518.46" cy="329.02" r="1.0" fill="#3B2FA5"/>
<text x="144.70" y="278.60" font-size="5.15" fill="#333" font-weight="normal" text-anchor="middle"  stroke="#333" stroke-width="0.08">BSH vs FHXN</text>
<rect x="77.09" y="274.90" width="45.81" height="3.6" fill="#5B9CEA"/>
<text x="144.70" y="287.32" font-size="5.15" fill="#333" font-weight="normal" text-anchor="middle"  stroke="#333" stroke-width="0.08">LFC vs JFC</text>
<rect x="68.80" y="283.62" width="54.10" height="3.6" fill="#5B9CEA"/>
<text x="144.70" y="296.04" font-size="5.15" fill="#333" font-weight="normal" text-anchor="middle"  stroke="#333" stroke-width="0.08">LFC vs BSH</text>
<rect x="64.75" y="292.34" width="58.15" height="3.6" fill="#5B9CEA"/>
<text x="144.70" y="304.76" font-size="5.15" fill="#333" font-weight="normal" text-anchor="middle"  stroke="#333" stroke-width="0.08">LFC vs HBG</text>
<rect x="54.21" y="301.06" width="68.69" height="3.6" fill="#5B9CEA"/>
<text x="144.70" y="313.48" font-size="5.15" fill="#333" font-weight="normal" text-anchor="middle"  stroke="#333" stroke-width="0.08">BSH vs JFC</text>
<rect x="46.74" y="309.78" width="76.16" height="3.6" fill="#5B9CEA"/>
<text x="144.70" y="322.20" font-size="5.15" fill="#333" font-weight="normal" text-anchor="middle"  stroke="#333" stroke-width="0.08">JFC vs HBG</text>
<rect x="45.55" y="318.50" width="77.35" height="3.6" fill="#5B9CEA"/>
<text x="144.70" y="330.92" font-size="5.15" fill="#333" font-weight="normal" text-anchor="middle"  stroke="#333" stroke-width="0.08">BSH vs HBG</text>
<rect x="43.17" y="327.22" width="79.73" height="3.6" fill="#5B9CEA"/>
<text x="144.70" y="339.64" font-size="5.15" fill="#333" font-weight="normal" text-anchor="middle"  stroke="#333" stroke-width="0.08">FHXN vs JFC</text>
<rect x="36.66" y="335.94" width="86.24" height="3.6" fill="#5B9CEA"/>
<text x="144.70" y="348.36" font-size="5.15" fill="#333" font-weight="normal" text-anchor="middle"  stroke="#333" stroke-width="0.08">LFC vs FHXN</text>
<rect x="34.25" y="344.66" width="88.65" height="3.6" fill="#5B9CEA"/>
<text x="144.70" y="357.08" font-size="5.15" fill="#333" font-weight="normal" text-anchor="middle"  stroke="#333" stroke-width="0.08">FHXN vs HBG</text>
<rect x="25.70" y="353.38" width="97.20" height="3.6" fill="#5B9CEA"/>
<line x1="21.1" y1="359.3" x2="127.5" y2="359.3" stroke="#333" stroke-width="0.8"/>
<line x1="122.90" y1="359.3" x2="122.90" y2="360.8" stroke="#333" stroke-width="0.6"/>
<text x="122.90" y="365.00" font-size="5.0" fill="#5548C0" font-weight="normal" text-anchor="middle"  stroke="#5548C0" stroke-width="0.08">0</text>
<line x1="87.70" y1="359.3" x2="87.70" y2="360.8" stroke="#333" stroke-width="0.6"/>
<text x="87.70" y="365.00" font-size="5.0" fill="#5548C0" font-weight="normal" text-anchor="middle"  stroke="#5548C0" stroke-width="0.08">2000</text>
<line x1="52.50" y1="359.3" x2="52.50" y2="360.8" stroke="#333" stroke-width="0.6"/>
<text x="52.50" y="365.00" font-size="5.0" fill="#5548C0" font-weight="normal" text-anchor="middle"  stroke="#5548C0" stroke-width="0.08">4000</text>
<text x="81.50" y="371.50" font-size="6.5" fill="#222" font-weight="normal" text-anchor="middle"  stroke="#222" stroke-width="0.08">Set Size</text>
<rect x="53.5" y="524.3" width="449.3" height="108.0" fill="#fff"/>
<line x1="61.30" y1="524.3" x2="61.30" y2="632.3" stroke="#e5e5e5" stroke-width="0.6"/>
<line x1="61.30" y1="522.9" x2="61.30" y2="524.3" stroke="#333" stroke-width="0.6"/>
<text x="0" y="0" font-size="6.05" fill="#1a1a1a" text-anchor="end" transform="translate(59.20 521.60) rotate(90)" stroke="#1a1a1a" stroke-width="0.08">Phenylalanine, tyrosine and tryptophan biosynthesis</text>
<line x1="74.86" y1="524.3" x2="74.86" y2="632.3" stroke="#e5e5e5" stroke-width="0.6"/>
<line x1="74.86" y1="522.9" x2="74.86" y2="524.3" stroke="#333" stroke-width="0.6"/>
<text x="0" y="0" font-size="6.05" fill="#1a1a1a" text-anchor="end" transform="translate(72.76 521.60) rotate(90)" stroke="#1a1a1a" stroke-width="0.08">Biosynthesis of amino acids</text>
<line x1="88.42" y1="524.3" x2="88.42" y2="632.3" stroke="#e5e5e5" stroke-width="0.6"/>
<line x1="88.42" y1="522.9" x2="88.42" y2="524.3" stroke="#333" stroke-width="0.6"/>
<text x="0" y="0" font-size="6.05" fill="#1a1a1a" text-anchor="end" transform="translate(86.32 521.60) rotate(90)" stroke="#1a1a1a" stroke-width="0.08">Flavone and flavonol biosynthesis</text>
<line x1="101.98" y1="524.3" x2="101.98" y2="632.3" stroke="#e5e5e5" stroke-width="0.6"/>
<line x1="101.98" y1="522.9" x2="101.98" y2="524.3" stroke="#333" stroke-width="0.6"/>
<text x="0" y="0" font-size="6.05" fill="#1a1a1a" text-anchor="end" transform="translate(99.88 521.60) rotate(90)" stroke="#1a1a1a" stroke-width="0.08">Glucosinolate biosynthesis</text>
<line x1="115.54" y1="524.3" x2="115.54" y2="632.3" stroke="#e5e5e5" stroke-width="0.6"/>
<line x1="115.54" y1="522.9" x2="115.54" y2="524.3" stroke="#333" stroke-width="0.6"/>
<text x="0" y="0" font-size="6.05" fill="#1a1a1a" text-anchor="end" transform="translate(113.44 521.60) rotate(90)" stroke="#1a1a1a" stroke-width="0.08">Purine metabolism</text>
<line x1="129.10" y1="524.3" x2="129.10" y2="632.3" stroke="#e5e5e5" stroke-width="0.6"/>
<line x1="129.10" y1="522.9" x2="129.10" y2="524.3" stroke="#333" stroke-width="0.6"/>
<text x="0" y="0" font-size="6.05" fill="#1a1a1a" text-anchor="end" transform="translate(127.00 521.60) rotate(90)" stroke="#1a1a1a" stroke-width="0.08">Biosynthesis of cofactors</text>
<line x1="142.66" y1="524.3" x2="142.66" y2="632.3" stroke="#e5e5e5" stroke-width="0.6"/>
<line x1="142.66" y1="522.9" x2="142.66" y2="524.3" stroke="#333" stroke-width="0.6"/>
<text x="0" y="0" font-size="6.05" fill="#1a1a1a" text-anchor="end" transform="translate(140.56 521.60) rotate(90)" stroke="#1a1a1a" stroke-width="0.08">Arginine and proline metabolism</text>
<line x1="156.22" y1="524.3" x2="156.22" y2="632.3" stroke="#e5e5e5" stroke-width="0.6"/>
<line x1="156.22" y1="522.9" x2="156.22" y2="524.3" stroke="#333" stroke-width="0.6"/>
<text x="0" y="0" font-size="6.05" fill="#1a1a1a" text-anchor="end" transform="translate(154.12 521.60) rotate(90)" stroke="#1a1a1a" stroke-width="0.08">Steroid biosynthesis</text>
<line x1="169.78" y1="524.3" x2="169.78" y2="632.3" stroke="#e5e5e5" stroke-width="0.6"/>
<line x1="169.78" y1="522.9" x2="169.78" y2="524.3" stroke="#333" stroke-width="0.6"/>
<text x="0" y="0" font-size="6.05" fill="#1a1a1a" text-anchor="end" transform="translate(167.68 521.60) rotate(90)" stroke="#1a1a1a" stroke-width="0.08">Isoflavonoid biosynthesis</text>
<line x1="183.34" y1="524.3" x2="183.34" y2="632.3" stroke="#e5e5e5" stroke-width="0.6"/>
<line x1="183.34" y1="522.9" x2="183.34" y2="524.3" stroke="#333" stroke-width="0.6"/>
<text x="0" y="0" font-size="6.05" fill="#1a1a1a" text-anchor="end" transform="translate(181.24 521.60) rotate(90)" stroke="#1a1a1a" stroke-width="0.08">Plant hormone signal transduction</text>
<line x1="196.90" y1="524.3" x2="196.90" y2="632.3" stroke="#e5e5e5" stroke-width="0.6"/>
<line x1="196.90" y1="522.9" x2="196.90" y2="524.3" stroke="#333" stroke-width="0.6"/>
<text x="0" y="0" font-size="6.05" fill="#1a1a1a" text-anchor="end" transform="translate(194.80 521.60) rotate(90)" stroke="#1a1a1a" stroke-width="0.08">Photosynthesis</text>
<line x1="210.46" y1="524.3" x2="210.46" y2="632.3" stroke="#e5e5e5" stroke-width="0.6"/>
<line x1="210.46" y1="522.9" x2="210.46" y2="524.3" stroke="#333" stroke-width="0.6"/>
<text x="0" y="0" font-size="6.05" fill="#1a1a1a" text-anchor="end" transform="translate(208.36 521.60) rotate(90)" stroke="#1a1a1a" stroke-width="0.08">Nitrogen metabolism</text>
<line x1="224.02" y1="524.3" x2="224.02" y2="632.3" stroke="#e5e5e5" stroke-width="0.6"/>
<line x1="224.02" y1="522.9" x2="224.02" y2="524.3" stroke="#333" stroke-width="0.6"/>
<text x="0" y="0" font-size="6.05" fill="#1a1a1a" text-anchor="end" transform="translate(221.92 521.60) rotate(90)" stroke="#1a1a1a" stroke-width="0.08">Anthocyanin biosynthesis</text>
<line x1="237.58" y1="524.3" x2="237.58" y2="632.3" stroke="#e5e5e5" stroke-width="0.6"/>
<line x1="237.58" y1="522.9" x2="237.58" y2="524.3" stroke="#333" stroke-width="0.6"/>
<text x="0" y="0" font-size="6.05" fill="#1a1a1a" text-anchor="end" transform="translate(235.48 521.60) rotate(90)" stroke="#1a1a1a" stroke-width="0.08">Monobactam biosynthesis</text>
<line x1="251.14" y1="524.3" x2="251.14" y2="632.3" stroke="#e5e5e5" stroke-width="0.6"/>
<line x1="251.14" y1="522.9" x2="251.14" y2="524.3" stroke="#333" stroke-width="0.6"/>
<text x="0" y="0" font-size="6.05" fill="#1a1a1a" text-anchor="end" transform="translate(249.04 521.60) rotate(90)" stroke="#1a1a1a" stroke-width="0.08">Metabolic pathways</text>
<line x1="264.70" y1="524.3" x2="264.70" y2="632.3" stroke="#e5e5e5" stroke-width="0.6"/>
<line x1="264.70" y1="522.9" x2="264.70" y2="524.3" stroke="#333" stroke-width="0.6"/>
<text x="0" y="0" font-size="6.05" fill="#1a1a1a" text-anchor="end" transform="translate(262.60 521.60) rotate(90)" stroke="#1a1a1a" stroke-width="0.08">Betalain biosynthesis</text>
<line x1="278.26" y1="524.3" x2="278.26" y2="632.3" stroke="#e5e5e5" stroke-width="0.6"/>
<line x1="278.26" y1="522.9" x2="278.26" y2="524.3" stroke="#333" stroke-width="0.6"/>
<text x="0" y="0" font-size="6.05" fill="#1a1a1a" text-anchor="end" transform="translate(276.16 521.60) rotate(90)" stroke="#1a1a1a" stroke-width="0.08">Phosphonate and phosphinate metabolism</text>
<line x1="291.82" y1="524.3" x2="291.82" y2="632.3" stroke="#e5e5e5" stroke-width="0.6"/>
<line x1="291.82" y1="522.9" x2="291.82" y2="524.3" stroke="#333" stroke-width="0.6"/>
<text x="0" y="0" font-size="6.05" fill="#1a1a1a" text-anchor="end" transform="translate(289.72 521.60) rotate(90)" stroke="#1a1a1a" stroke-width="0.08">Phenylalanine metabolism</text>
<line x1="305.38" y1="524.3" x2="305.38" y2="632.3" stroke="#e5e5e5" stroke-width="0.6"/>
<line x1="305.38" y1="522.9" x2="305.38" y2="524.3" stroke="#333" stroke-width="0.6"/>
<text x="0" y="0" font-size="6.05" fill="#1a1a1a" text-anchor="end" transform="translate(303.28 521.60) rotate(90)" stroke="#1a1a1a" stroke-width="0.08">Peroxisome</text>
<line x1="318.94" y1="524.3" x2="318.94" y2="632.3" stroke="#e5e5e5" stroke-width="0.6"/>
<line x1="318.94" y1="522.9" x2="318.94" y2="524.3" stroke="#333" stroke-width="0.6"/>
<text x="0" y="0" font-size="6.05" fill="#1a1a1a" text-anchor="end" transform="translate(316.84 521.60) rotate(90)" stroke="#1a1a1a" stroke-width="0.08">Cutin, suberine and wax biosynthesis</text>
<line x1="332.50" y1="524.3" x2="332.50" y2="632.3" stroke="#e5e5e5" stroke-width="0.6"/>
<line x1="332.50" y1="522.9" x2="332.50" y2="524.3" stroke="#333" stroke-width="0.6"/>
<text x="0" y="0" font-size="6.05" fill="#1a1a1a" text-anchor="end" transform="translate(330.40 521.60) rotate(90)" stroke="#1a1a1a" stroke-width="0.08">Pantothenate and CoA biosynthesis</text>
<line x1="346.06" y1="524.3" x2="346.06" y2="632.3" stroke="#e5e5e5" stroke-width="0.6"/>
<line x1="346.06" y1="522.9" x2="346.06" y2="524.3" stroke="#333" stroke-width="0.6"/>
<text x="0" y="0" font-size="6.05" fill="#1a1a1a" text-anchor="end" transform="translate(343.96 521.60) rotate(90)" stroke="#1a1a1a" stroke-width="0.08">Cyanoamino acid metabolism</text>
<line x1="359.62" y1="524.3" x2="359.62" y2="632.3" stroke="#e5e5e5" stroke-width="0.6"/>
<line x1="359.62" y1="522.9" x2="359.62" y2="524.3" stroke="#333" stroke-width="0.6"/>
<text x="0" y="0" font-size="6.05" fill="#1a1a1a" text-anchor="end" transform="translate(357.52 521.60) rotate(90)" stroke="#1a1a1a" stroke-width="0.08">Monoterpenoid biosynthesis</text>
<line x1="373.18" y1="524.3" x2="373.18" y2="632.3" stroke="#e5e5e5" stroke-width="0.6"/>
<line x1="373.18" y1="522.9" x2="373.18" y2="524.3" stroke="#333" stroke-width="0.6"/>
<text x="0" y="0" font-size="6.05" fill="#1a1a1a" text-anchor="end" transform="translate(371.08 521.60) rotate(90)" stroke="#1a1a1a" stroke-width="0.08">Nicotinate and nicotinamide metabolism</text>
<line x1="386.74" y1="524.3" x2="386.74" y2="632.3" stroke="#e5e5e5" stroke-width="0.6"/>
<line x1="386.74" y1="522.9" x2="386.74" y2="524.3" stroke="#333" stroke-width="0.6"/>
<text x="0" y="0" font-size="6.05" fill="#1a1a1a" text-anchor="end" transform="translate(384.64 521.60) rotate(90)" stroke="#1a1a1a" stroke-width="0.08">Isoquinoline alkaloid biosynthesis</text>
<line x1="400.30" y1="524.3" x2="400.30" y2="632.3" stroke="#e5e5e5" stroke-width="0.6"/>
<line x1="400.30" y1="522.9" x2="400.30" y2="524.3" stroke="#333" stroke-width="0.6"/>
<text x="0" y="0" font-size="6.05" fill="#1a1a1a" text-anchor="end" transform="translate(398.20 521.60) rotate(90)" stroke="#1a1a1a" stroke-width="0.08">Arachidonic acid metabolism</text>
<line x1="413.86" y1="524.3" x2="413.86" y2="632.3" stroke="#e5e5e5" stroke-width="0.6"/>
<line x1="413.86" y1="522.9" x2="413.86" y2="524.3" stroke="#333" stroke-width="0.6"/>
<text x="0" y="0" font-size="6.05" fill="#1a1a1a" text-anchor="end" transform="translate(411.76 521.60) rotate(90)" stroke="#1a1a1a" stroke-width="0.08">Stilbenoid, diarylheptanoid and gingerol biosynthesis</text>
<line x1="427.42" y1="524.3" x2="427.42" y2="632.3" stroke="#e5e5e5" stroke-width="0.6"/>
<line x1="427.42" y1="522.9" x2="427.42" y2="524.3" stroke="#333" stroke-width="0.6"/>
<text x="0" y="0" font-size="6.05" fill="#1a1a1a" text-anchor="end" transform="translate(425.32 521.60) rotate(90)" stroke="#1a1a1a" stroke-width="0.08">One carbon pool by folate</text>
<line x1="440.98" y1="524.3" x2="440.98" y2="632.3" stroke="#e5e5e5" stroke-width="0.6"/>
<line x1="440.98" y1="522.9" x2="440.98" y2="524.3" stroke="#333" stroke-width="0.6"/>
<text x="0" y="0" font-size="6.05" fill="#1a1a1a" text-anchor="end" transform="translate(438.88 521.60) rotate(90)" stroke="#1a1a1a" stroke-width="0.08">Plant-pathogen interaction</text>
<line x1="454.54" y1="524.3" x2="454.54" y2="632.3" stroke="#e5e5e5" stroke-width="0.6"/>
<line x1="454.54" y1="522.9" x2="454.54" y2="524.3" stroke="#333" stroke-width="0.6"/>
<text x="0" y="0" font-size="6.05" fill="#1a1a1a" text-anchor="end" transform="translate(452.44 521.60) rotate(90)" stroke="#1a1a1a" stroke-width="0.08">Vitamin B6 metabolism</text>
<line x1="468.10" y1="524.3" x2="468.10" y2="632.3" stroke="#e5e5e5" stroke-width="0.6"/>
<line x1="468.10" y1="522.9" x2="468.10" y2="524.3" stroke="#333" stroke-width="0.6"/>
<text x="0" y="0" font-size="6.05" fill="#1a1a1a" text-anchor="end" transform="translate(466.00 521.60) rotate(90)" stroke="#1a1a1a" stroke-width="0.08">Porphyrin and chlorophyll metabolism</text>
<line x1="481.66" y1="524.3" x2="481.66" y2="632.3" stroke="#e5e5e5" stroke-width="0.6"/>
<line x1="481.66" y1="522.9" x2="481.66" y2="524.3" stroke="#333" stroke-width="0.6"/>
<text x="0" y="0" font-size="6.05" fill="#1a1a1a" text-anchor="end" transform="translate(479.56 521.60) rotate(90)" stroke="#1a1a1a" stroke-width="0.08">Tyrosine metabolism</text>
<line x1="495.22" y1="524.3" x2="495.22" y2="632.3" stroke="#e5e5e5" stroke-width="0.6"/>
<line x1="495.22" y1="522.9" x2="495.22" y2="524.3" stroke="#333" stroke-width="0.6"/>
<text x="0" y="0" font-size="6.05" fill="#1a1a1a" text-anchor="end" transform="translate(493.12 521.60) rotate(90)" stroke="#1a1a1a" stroke-width="0.08">Flavonoid biosynthesis</text>
<line x1="53.5" y1="539.5" x2="502.8" y2="539.5" stroke="#e5e5e5" stroke-width="0.6"/>
<line x1="51.5" y1="539.5" x2="53.5" y2="539.5" stroke="#333" stroke-width="0.5"/>
<line x1="53.5" y1="564.7" x2="502.8" y2="564.7" stroke="#e5e5e5" stroke-width="0.6"/>
<line x1="51.5" y1="564.7" x2="53.5" y2="564.7" stroke="#333" stroke-width="0.5"/>
<line x1="53.5" y1="590.0" x2="502.8" y2="590.0" stroke="#e5e5e5" stroke-width="0.6"/>
<line x1="51.5" y1="590.0" x2="53.5" y2="590.0" stroke="#333" stroke-width="0.5"/>
<line x1="53.5" y1="615.3" x2="502.8" y2="615.3" stroke="#e5e5e5" stroke-width="0.6"/>
<line x1="51.5" y1="615.3" x2="53.5" y2="615.3" stroke="#333" stroke-width="0.5"/>
<text x="28.00" y="541.60" font-size="6.1" fill="#111" font-weight="bold" text-anchor="middle" >LFC_vs_FHXN</text>
<text x="28.00" y="566.80" font-size="6.1" fill="#111" font-weight="bold" text-anchor="middle" >LFC_vs_JFC</text>
<text x="28.00" y="592.10" font-size="6.1" fill="#111" font-weight="bold" text-anchor="middle" >LFC_vs_BSH</text>
<text x="28.00" y="617.40" font-size="6.1" fill="#111" font-weight="bold" text-anchor="middle" >LFC_vs_HBG</text>
<circle cx="74.86" cy="539.5" r="4.4" fill="#F0909F"/>
<circle cx="88.42" cy="539.5" r="4.1" fill="#EE7B85"/>
<circle cx="115.54" cy="539.5" r="4.4" fill="#F9B0C9"/>
<circle cx="156.22" cy="539.5" r="4.5" fill="#F23A28"/>
<circle cx="196.90" cy="539.5" r="4.7" fill="#F28C96"/>
<circle cx="224.02" cy="539.5" r="3.05" fill="#F08C96"/>
<circle cx="237.58" cy="539.5" r="4.8" fill="#F2868F"/>
<circle cx="291.82" cy="539.5" r="4.4" fill="#F8B8DE"/>
<circle cx="305.38" cy="539.5" r="4.6" fill="#F28A96"/>
<circle cx="346.06" cy="539.5" r="4.6" fill="#F8B8DE"/>
<circle cx="359.62" cy="539.5" r="4.5" fill="#F28A98"/>
<circle cx="400.30" cy="539.5" r="4.7" fill="#F59AAC"/>
<circle cx="427.42" cy="539.5" r="5.2" fill="#F28A92"/>
<circle cx="454.54" cy="539.5" r="5.2" fill="#F07070"/>
<circle cx="481.66" cy="539.5" r="6.2" fill="#F2909E"/>
<circle cx="495.22" cy="539.5" r="6.3" fill="#F8B8DC"/>
<circle cx="101.98" cy="564.7" r="4.5" fill="#F04848"/>
<circle cx="129.10" cy="564.7" r="4.5" fill="#F26B6E"/>
<circle cx="142.66" cy="564.7" r="4.4" fill="#F49AAA"/>
<circle cx="169.78" cy="564.7" r="4.4" fill="#F4A0B0"/>
<circle cx="210.46" cy="564.7" r="4.5" fill="#F4A2B8"/>
<circle cx="224.02" cy="564.7" r="4.9" fill="#F04A3F"/>
<circle cx="251.14" cy="564.7" r="4.6" fill="#F6B8E0"/>
<circle cx="291.82" cy="564.7" r="4.6" fill="#F05E5E"/>
<circle cx="305.38" cy="564.7" r="4.5" fill="#F28890"/>
<circle cx="318.94" cy="564.7" r="4.6" fill="#F4A0B0"/>
<circle cx="346.06" cy="564.7" r="4.2" fill="#F6A8D0"/>
<circle cx="468.10" cy="564.7" r="5.3" fill="#F6A2B8"/>
<circle cx="481.66" cy="564.7" r="5.0" fill="#F4A0B0"/>
<circle cx="495.22" cy="564.7" r="4.3" fill="#F8B8DC"/>
<circle cx="61.30" cy="590.0" r="3.7" fill="#F7A8C6"/>
<circle cx="88.42" cy="590.0" r="4.5" fill="#EE2A1A"/>
<circle cx="196.90" cy="590.0" r="4.4" fill="#F7B5D8"/>
<circle cx="224.02" cy="590.0" r="3.0" fill="#F7A9C0"/>
<circle cx="251.14" cy="590.0" r="4.7" fill="#F07880"/>
<circle cx="264.70" cy="590.0" r="4.5" fill="#F6A8C0"/>
<circle cx="291.82" cy="590.0" r="4.4" fill="#F8B8DE"/>
<circle cx="305.38" cy="590.0" r="4.3" fill="#F6A8C4"/>
<circle cx="346.06" cy="590.0" r="4.3" fill="#F6A0BC"/>
<circle cx="359.62" cy="590.0" r="4.5" fill="#F4A0B4"/>
<circle cx="413.86" cy="590.0" r="5.2" fill="#F06A5E"/>
<circle cx="427.42" cy="590.0" r="4.4" fill="#F28088"/>
<circle cx="454.54" cy="590.0" r="5.4" fill="#F0463A"/>
<circle cx="481.66" cy="590.0" r="5.0" fill="#F8B8DC"/>
<circle cx="495.22" cy="590.0" r="4.5" fill="#EE0A0A"/>
<circle cx="88.42" cy="615.3" r="4.1" fill="#F7A5B8"/>
<circle cx="169.78" cy="615.3" r="4.3" fill="#F4A0AA"/>
<circle cx="183.34" cy="615.3" r="4.5" fill="#F42418"/>
<circle cx="224.02" cy="615.3" r="4.4" fill="#F6A3B5"/>
<circle cx="251.14" cy="615.3" r="4.5" fill="#F07A85"/>
<circle cx="278.26" cy="615.3" r="4.8" fill="#F0382A"/>
<circle cx="291.82" cy="615.3" r="1.2" fill="#F8B0D8"/>
<circle cx="332.50" cy="615.3" r="4.7" fill="#F07A80"/>
<circle cx="359.62" cy="615.3" r="4.6" fill="#F4909E"/>
<circle cx="373.18" cy="615.3" r="5.0" fill="#F0483A"/>
<circle cx="386.74" cy="615.3" r="4.8" fill="#F49AA8"/>
<circle cx="400.30" cy="615.3" r="4.7" fill="#F04A40"/>
<circle cx="413.86" cy="615.3" r="4.8" fill="#F8B8DC"/>
<circle cx="440.98" cy="615.3" r="5.2" fill="#F49AAA"/>
<circle cx="481.66" cy="615.3" r="4.7" fill="#F28E9C"/>
<circle cx="495.22" cy="615.3" r="5.0" fill="#F8B8DC"/>
<rect x="53.5" y="524.3" width="449.3" height="108.0" fill="none" stroke="#444" stroke-width="1"/>
<defs><linearGradient id="da" x1="0" y1="0" x2="0" y2="1"><stop offset="0" stop-color="#FF0A0A"/><stop offset="0.5" stop-color="#F57A8A"/><stop offset="1" stop-color="#F8C2F0"/></linearGradient></defs>
<text x="522.70" y="530.60" font-size="5.4" fill="#222" font-weight="normal" text-anchor="start"  stroke="#222" stroke-width="0.08">DA score</text>
<rect x="522.7" y="534.2" width="6" height="32.3" fill="url(#da)"/>
<text x="532.00" y="540.40" font-size="4.5" fill="#333" font-weight="normal" text-anchor="start"  stroke="#333" stroke-width="0.08">0.5</text>
<text x="532.00" y="545.80" font-size="4.5" fill="#333" font-weight="normal" text-anchor="start"  stroke="#333" stroke-width="0.08">0.4</text>
<text x="532.00" y="551.30" font-size="4.5" fill="#333" font-weight="normal" text-anchor="start"  stroke="#333" stroke-width="0.08">0.3</text>
<text x="532.00" y="556.90" font-size="4.5" fill="#333" font-weight="normal" text-anchor="start"  stroke="#333" stroke-width="0.08">0.2</text>
<text x="532.00" y="562.40" font-size="4.5" fill="#333" font-weight="normal" text-anchor="start"  stroke="#333" stroke-width="0.08">0.1</text>
<text x="522.70" y="579.80" font-size="5.4" fill="#222" font-weight="normal" text-anchor="start"  stroke="#222" stroke-width="0.08">pvalue</text>
<circle cx="528.9" cy="585.9" r="2.1" fill="#000"/>
<text x="538.20" y="587.70" font-size="4.6" fill="#333" font-weight="normal" text-anchor="start"  stroke="#333" stroke-width="0.08">−0.2</text>
<circle cx="528.9" cy="593.7" r="3.6" fill="#000"/>
<text x="538.20" y="595.50" font-size="4.6" fill="#333" font-weight="normal" text-anchor="start"  stroke="#333" stroke-width="0.08">0.0</text>
<circle cx="528.9" cy="603.5" r="4.4" fill="#000"/>
<text x="538.20" y="605.30" font-size="4.6" fill="#333" font-weight="normal" text-anchor="start"  stroke="#333" stroke-width="0.08">0.2</text>
<circle cx="528.9" cy="614.9" r="5.3" fill="#000"/>
<text x="538.20" y="616.70" font-size="4.6" fill="#333" font-weight="normal" text-anchor="start"  stroke="#333" stroke-width="0.08">0.4</text>
</svg></body></html>
